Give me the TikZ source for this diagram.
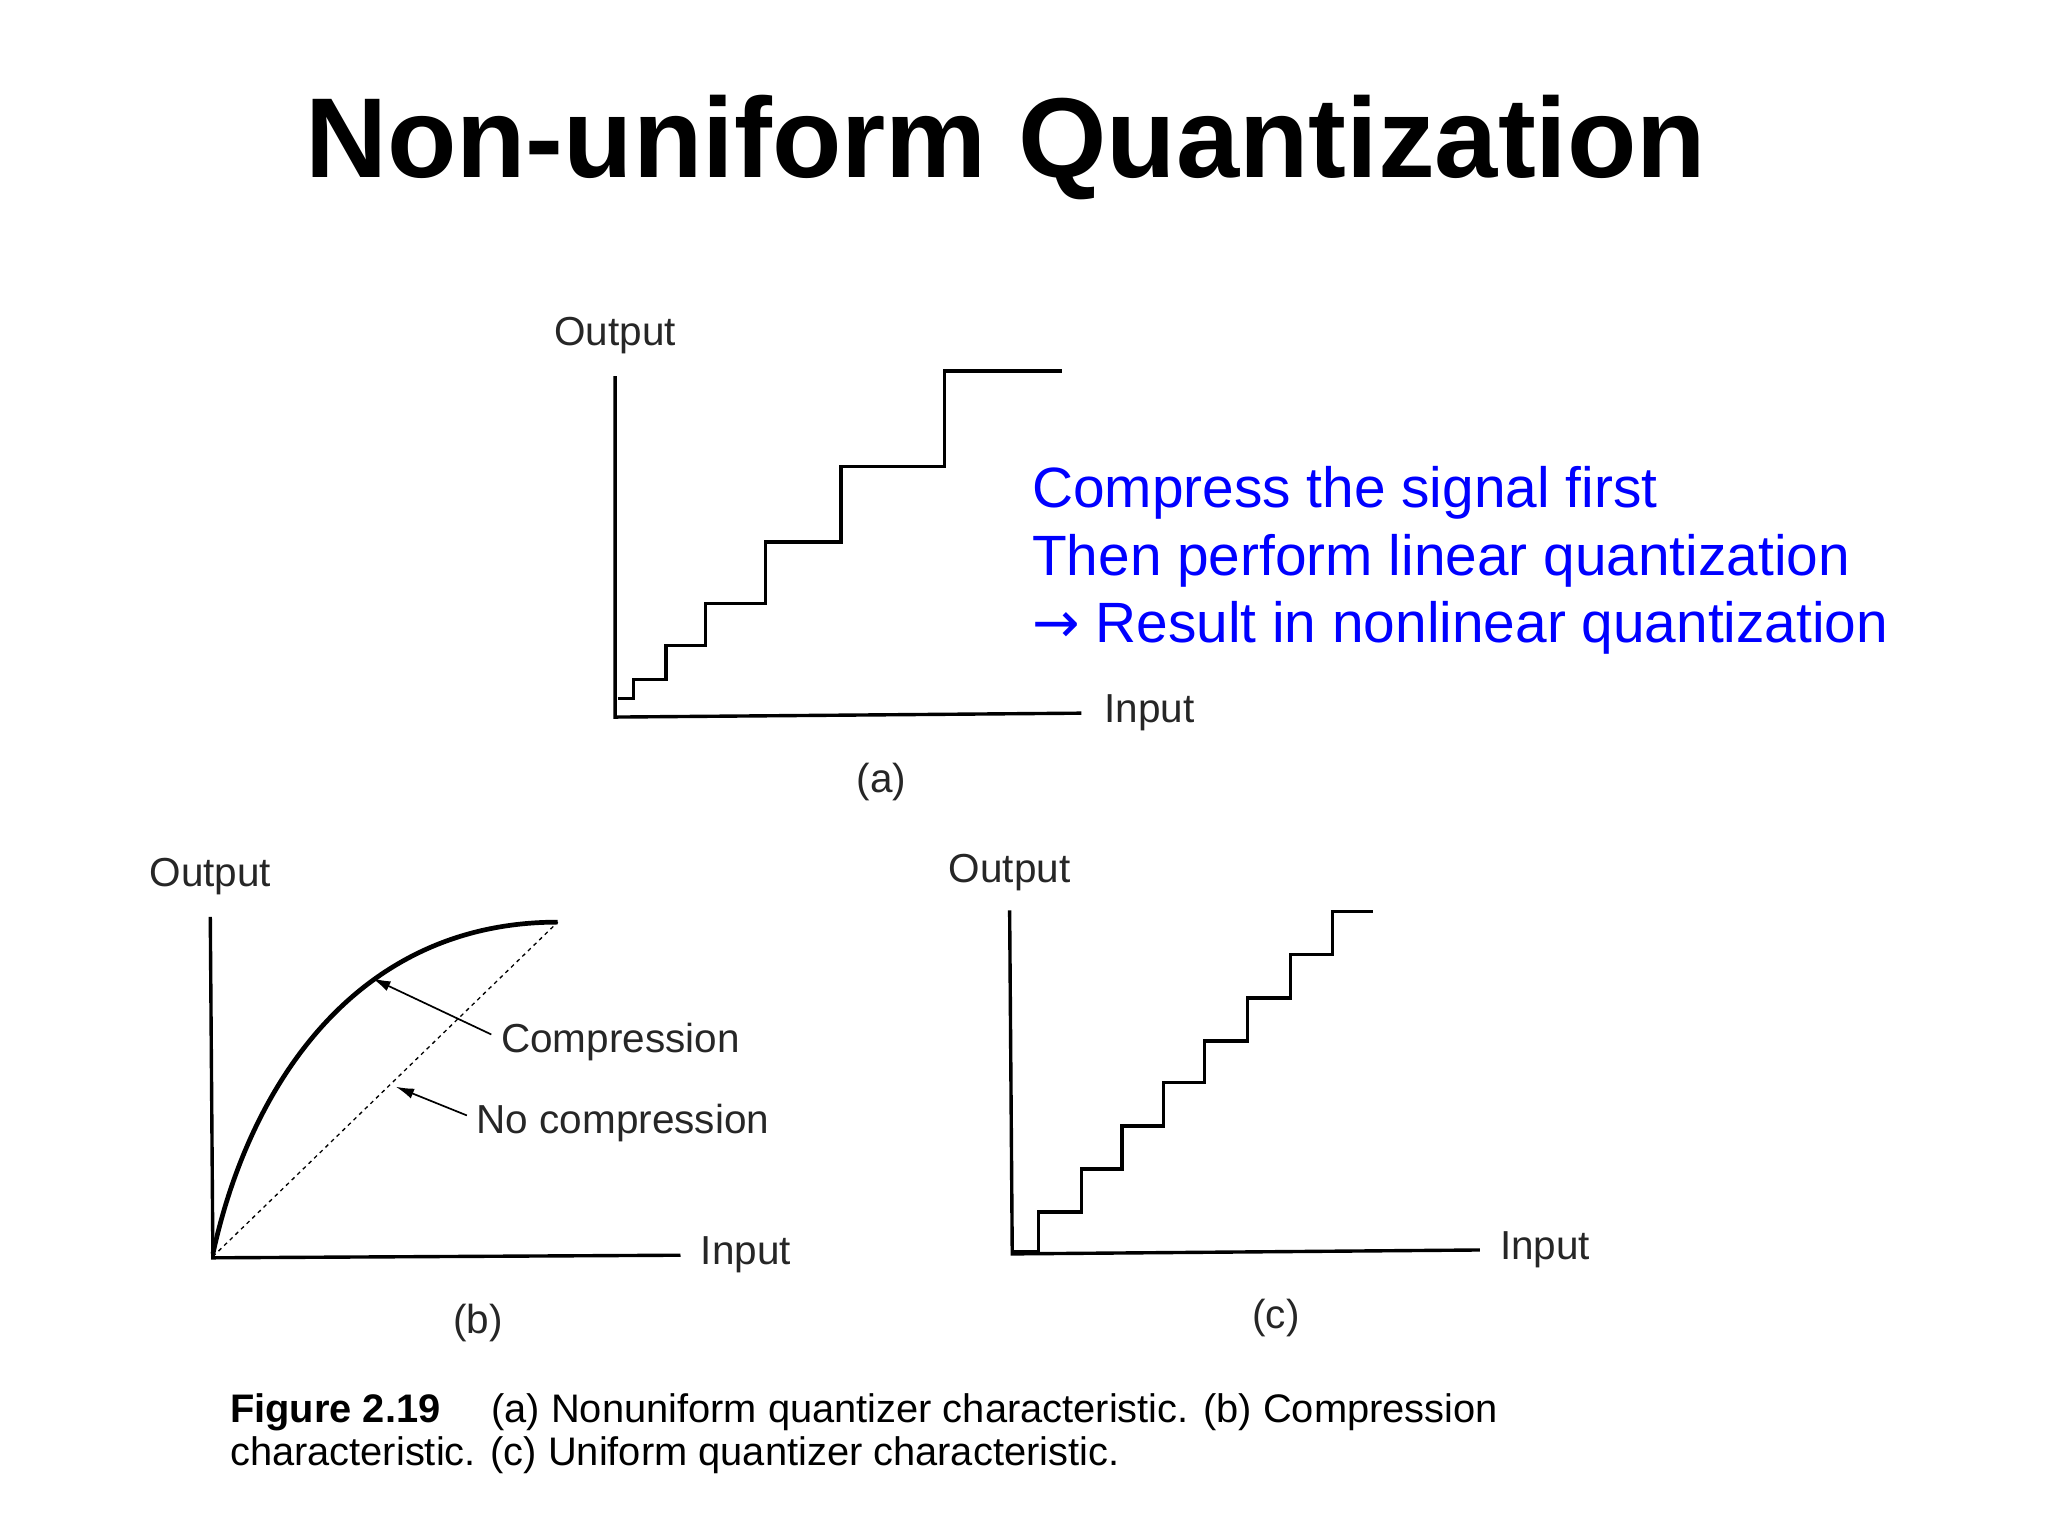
\documentclass[tikz,border=0pt]{standalone}
\usepackage{fontspec}
\setmainfont{Liberation Sans}
\newfontfamily\dejavu{DejaVu Sans}
\usetikzlibrary{arrows.meta}
\begin{document}
\begin{tikzpicture}[x=1pt,y=-1pt,
  ax/.style={line width=2.6pt},
  lab/.style={font=\fontsize{31}{34}\selectfont, text=black!85},
  bluetxt/.style={font=\fontsize{43.5}{48}\selectfont, text=blue, anchor=west, inner sep=0},
  captxt/.style={font=\fontsize{30.5}{33}\selectfont, anchor=west, inner sep=0},
  pointer/.style={line width=1.3pt,-{Latex[length=14pt,width=8pt]}}]
\useasboundingbox (0,0) rectangle (1568,1176);
\node[font=\fontsize{87}{96}\selectfont\bfseries] (title) at (770,113) {Non-uniform Quantization};
% (a)
\coordinate (ao) at (471,549);
\draw[ax] (471,288) -- (ao) -- (828,546);
\draw[ax] (473,535) -| (485,520) -| (510,494) -| (540,462) -| (586,415) -| (644,357) -| (723,284) -- (813,284);
\node[lab] (aout) at (471,257) {Output};
\node[lab] (ain) at (880,546) {Input};
\node[lab] (al) at (675,599) {(a)};
\node[bluetxt] (t1) at (790,377) {Compress the signal first};
\node[bluetxt] (t2) at (790,429) {Then perform linear quantization};
\node[bluetxt] (t3) at (790,481) {{\dejavu →} Result in nonlinear quantization};
% (b)
\draw[ax] (161,702) -- (163,963) -- (521,961);
\draw[line width=3.6pt] (163,960) .. controls (190,835) and (270,706) .. (427,706);
\draw[dashed, line width=1pt] (163,962) -- (427,706);
\node[lab] (bc) at (475,798) {Compression};
\node[lab] (bn) at (477,860) {No compression};
\draw[pointer] (bc.west) ++(-4,-6) -- (285,749);
\draw[pointer] (bn.west) ++(-4,-6) -- (303,832);
\node[lab] (bin) at (571,961) {Input};
\node[lab] (bout) at (161,671) {Output};
\node[lab] (bl) at (366,1013) {(b)};
% (c)
\draw[ax] (773,697) -- (775,960) -- (1133,957);
\draw[ax] (775,958) -| (795,928) -| (828,895) -| (859,862) -| (891,829) -| (922,797) -| (955,764) -| (988,731) -| (1020,698) -- (1051,698);
\node[lab] (cout) at (773,668) {Output};
\node[lab] (cin) at (1183,957) {Input};
\node[lab] (cl) at (977,1009) {(c)};
% caption
\node[captxt] (c1) at (176,1081) {\textbf{Figure 2.19}\quad\ (a) Nonuniform quantizer characteristic. (b) Compression};
\node[captxt] (c2) at (176,1114) {characteristic. (c) Uniform quantizer characteristic.};
\end{tikzpicture}
\end{document}
